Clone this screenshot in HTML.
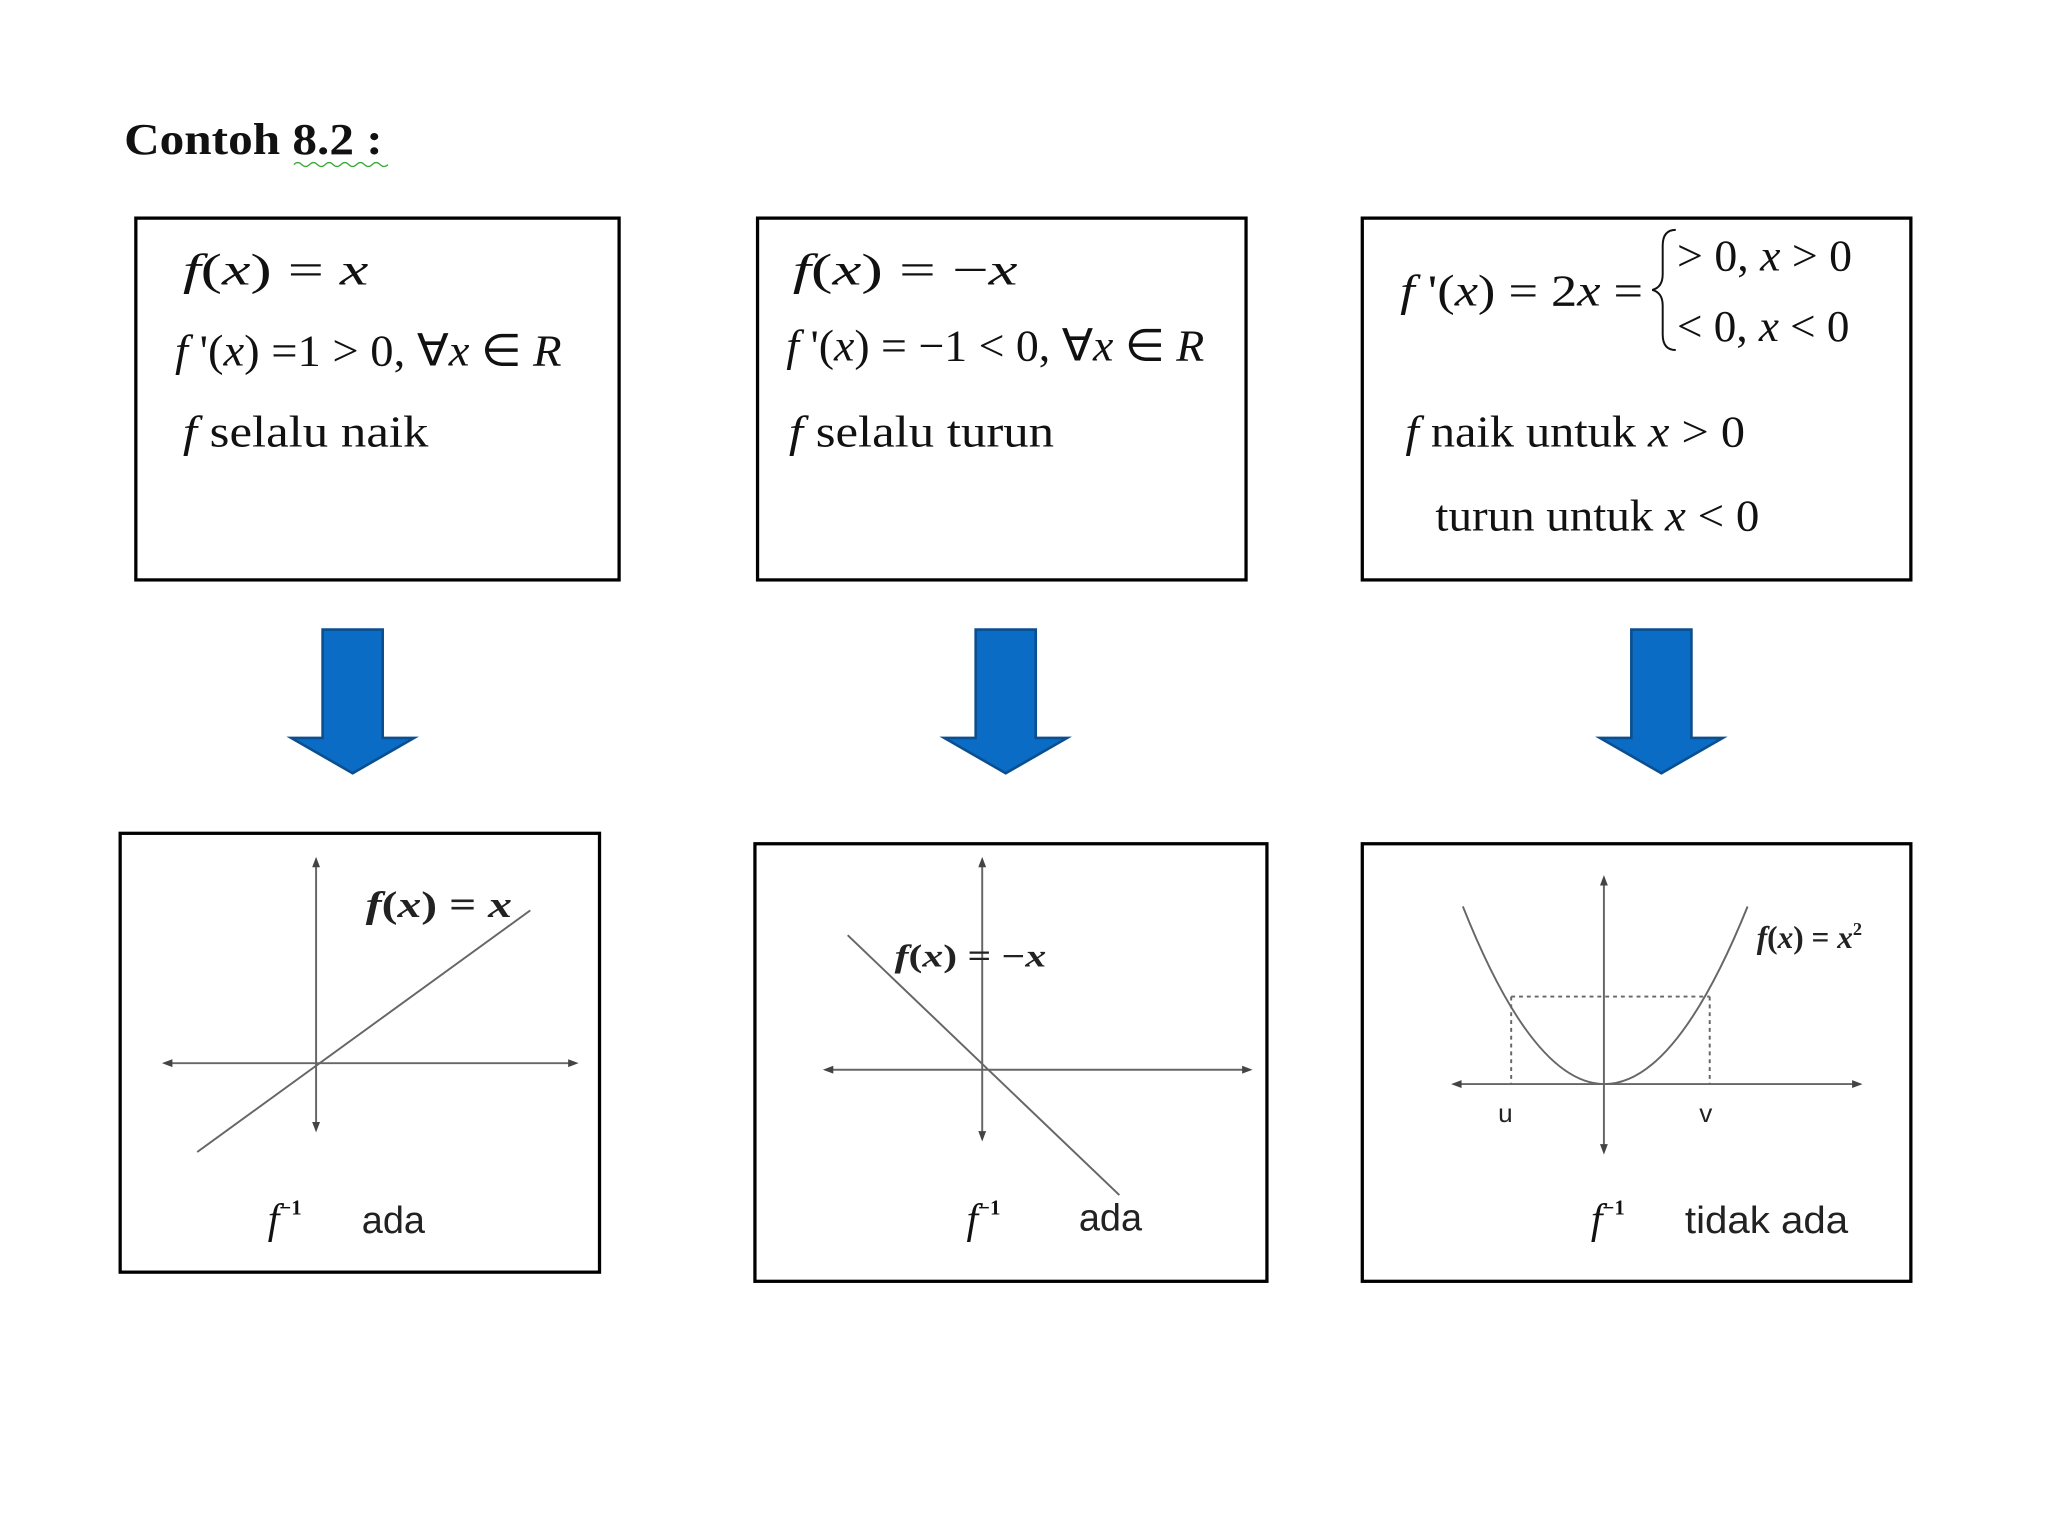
<!DOCTYPE html>
<html><head><meta charset="utf-8"><style>
html,body{margin:0;padding:0;background:#fff;}
svg{display:block;}
.s{font-family:"Liberation Serif",serif;}
.i{font-style:italic;}
.a{font-family:"Liberation Sans",sans-serif;}
</style></head><body>
<svg width="2048" height="1536" viewBox="0 0 1568 1176" preserveAspectRatio="none" xmlns="http://www.w3.org/2000/svg">
<rect width="1568" height="1176" fill="#fff"/>
<text x="95" y="118" class="s" font-size="34" font-weight="bold" fill="#111" textLength="198" lengthAdjust="spacingAndGlyphs">Contoh 8.2 :</text>
<path d="M225 126 q3 -3 6 0 t6 0 t6 0 t6 0 t6 0 t6 0 t6 0 t6 0 t6 0 t6 0 t6 0 t6 0" stroke="#3a3" fill="none" stroke-width="1"/>
<g fill="none" stroke="#000" stroke-width="2.5">
<rect x="104" y="167" width="370" height="277"/>
<rect x="580" y="167" width="374" height="277"/>
<rect x="1043" y="167" width="420" height="277"/>
<rect x="92" y="638" width="367" height="336"/>
<rect x="578" y="646" width="392" height="335"/>
<rect x="1043" y="646" width="420" height="335"/>
</g>
<g class="s" font-size="34" fill="#111">
<text x="140" y="218" textLength="142" lengthAdjust="spacingAndGlyphs"><tspan class="i">f</tspan>(<tspan class="i">x</tspan>) = <tspan class="i">x</tspan></text>
<text x="134" y="280" textLength="296" lengthAdjust="spacingAndGlyphs"><tspan class="i">f</tspan> '(<tspan class="i">x</tspan>) =1 &gt; 0, ∀<tspan class="i">x</tspan> ∈ <tspan class="i">R</tspan></text>
<text x="140" y="342" textLength="188" lengthAdjust="spacingAndGlyphs"><tspan class="i">f</tspan> selalu naik</text>
<text x="607" y="218" textLength="172" lengthAdjust="spacingAndGlyphs"><tspan class="i">f</tspan>(<tspan class="i">x</tspan>) = −<tspan class="i">x</tspan></text>
<text x="602" y="276" textLength="320" lengthAdjust="spacingAndGlyphs"><tspan class="i">f</tspan> '(<tspan class="i">x</tspan>) = −1 &lt; 0, ∀<tspan class="i">x</tspan> ∈ <tspan class="i">R</tspan></text>
<text x="604" y="342" textLength="203" lengthAdjust="spacingAndGlyphs"><tspan class="i">f</tspan> selalu turun</text>
<text x="1072" y="234" textLength="186" lengthAdjust="spacingAndGlyphs"><tspan class="i">f</tspan> '(<tspan class="i">x</tspan>) = 2<tspan class="i">x</tspan> =</text>
<text x="1284" y="207" textLength="134" lengthAdjust="spacingAndGlyphs">&gt; 0, <tspan class="i">x</tspan> &gt; 0</text>
<text x="1284" y="261" textLength="132" lengthAdjust="spacingAndGlyphs">&lt; 0, <tspan class="i">x</tspan> &lt; 0</text>
<text x="1076" y="342" textLength="260" lengthAdjust="spacingAndGlyphs"><tspan class="i">f</tspan> naik untuk  <tspan class="i">x</tspan> &gt; 0</text>
<text x="1099" y="406" textLength="248" lengthAdjust="spacingAndGlyphs">turun untuk  <tspan class="i">x</tspan>  &lt; 0</text>
</g>
<path d="M1283 176 q-10 0 -10 12 v22 q0 10 -8 12 q8 2 8 12 v22 q0 12 10 12" stroke="#111" fill="none" stroke-width="1.5"/>
<g fill="#0a6cc4" stroke="#0b4f90" stroke-width="2">
<path d="M247 482 h46 v83 h24 l-47 27 l-47 -27 h24z"/>
<path d="M747 482 h46 v83 h24 l-47 27 l-47 -27 h24z"/>
<path d="M1249 482 h46 v83 h24 l-47 27 l-47 -27 h24z"/>
</g>
<g stroke="#666" stroke-width="1.5" fill="none">
<line x1="242" y1="660" x2="242" y2="863"/><line x1="128" y1="814" x2="439" y2="814"/>
<line x1="151" y1="882" x2="406" y2="697"/>
<line x1="752" y1="660" x2="752" y2="870"/><line x1="634" y1="819" x2="955" y2="819"/>
<line x1="649" y1="716" x2="857" y2="915"/>
<line x1="1228" y1="674" x2="1228" y2="880"/><line x1="1115" y1="830" x2="1422" y2="830"/>
<path d="M1120 694 Q1228 966 1338 694"/>
<path d="M1157 763 H1309 M1157 763 V830 M1309 763 V830" stroke-dasharray="3,3"/>
</g>
<g fill="#444">
<path d="M242 656 l-3 8 h6z"/><path d="M242 867 l-3 -8 h6z"/><path d="M124 814 l8 -3 v6z"/><path d="M443 814 l-8 -3 v6z"/>
<path d="M752 656 l-3 8 h6z"/><path d="M752 874 l-3 -8 h6z"/><path d="M630 819 l8 -3 v6z"/><path d="M959 819 l-8 -3 v6z"/>
<path d="M1228 670 l-3 8 h6z"/><path d="M1228 884 l-3 -8 h6z"/><path d="M1111 830 l8 -3 v6z"/><path d="M1426 830 l-8 -3 v6z"/>
</g>
<g class="s" font-weight="bold" fill="#222">
<text x="280" y="702" font-size="28" textLength="112" lengthAdjust="spacingAndGlyphs"><tspan class="i">f</tspan>(<tspan class="i">x</tspan>) = <tspan class="i">x</tspan></text>
<text x="685" y="740" font-size="24" textLength="116" lengthAdjust="spacingAndGlyphs"><tspan class="i">f</tspan>(<tspan class="i">x</tspan>) = −<tspan class="i">x</tspan></text>
<text x="1345" y="726" font-size="24"><tspan class="i">f</tspan>(<tspan class="i">x</tspan>) = <tspan class="i">x</tspan><tspan font-size="14" dy="-10">2</tspan></text>
</g>
<g class="s" fill="#111" font-size="32">
<text x="205" y="944" class="i">f<tspan font-size="16" dy="-14" font-style="normal" font-weight="bold">−1</tspan></text>
<text x="740" y="944" class="i">f<tspan font-size="16" dy="-14" font-style="normal" font-weight="bold">−1</tspan></text>
<text x="1218" y="944" class="i">f<tspan font-size="16" dy="-14" font-style="normal" font-weight="bold">−1</tspan></text>
</g>
<g class="a" fill="#222" font-size="29">
<text x="277" y="944">ada</text>
<text x="826" y="942">ada</text>
<text x="1290" y="944" textLength="125" lengthAdjust="spacingAndGlyphs">tidak ada</text>
<text x="1147" y="859" font-size="20">u</text>
<text x="1301" y="859" font-size="20">v</text>
</g>
</svg>
</body></html>
